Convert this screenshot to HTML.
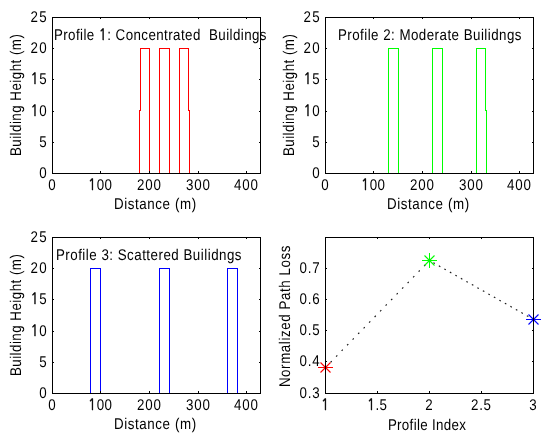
<!DOCTYPE html>
<html><head><meta charset="utf-8"><title>Building profiles</title>
<style>html,body{margin:0;padding:0;background:#fff;overflow:hidden;}svg{display:block;}.o{font-family:NanumGothic,"Liberation Sans",sans-serif;stroke:#000;stroke-width:0.45px;}</style>
</head><body>
<svg width="550" height="438" viewBox="0 0 550 438" shape-rendering="crispEdges">
<rect x="0" y="0" width="550" height="438" fill="#fff"/>
<rect x="140" y="48" width="1" height="63" fill="#f00"/>
<rect x="139" y="110" width="1" height="64" fill="#f00"/>
<rect x="140" y="48" width="10" height="1" fill="#f00"/>
<rect x="149" y="48" width="1" height="126" fill="#f00"/>
<rect x="159" y="48" width="1" height="126" fill="#f00"/>
<rect x="159" y="48" width="11" height="1" fill="#f00"/>
<rect x="169" y="48" width="1" height="126" fill="#f00"/>
<rect x="179" y="48" width="1" height="126" fill="#f00"/>
<rect x="179" y="48" width="10" height="1" fill="#f00"/>
<rect x="188" y="48" width="1" height="63" fill="#f00"/>
<rect x="189" y="110" width="1" height="64" fill="#f00"/>
<rect x="388" y="48" width="1" height="126" fill="#0f0"/>
<rect x="388" y="48" width="11" height="1" fill="#0f0"/>
<rect x="398" y="48" width="1" height="126" fill="#0f0"/>
<rect x="432" y="48" width="1" height="126" fill="#0f0"/>
<rect x="432" y="48" width="11" height="1" fill="#0f0"/>
<rect x="442" y="48" width="1" height="126" fill="#0f0"/>
<rect x="476" y="48" width="1" height="126" fill="#0f0"/>
<rect x="476" y="48" width="10" height="1" fill="#0f0"/>
<rect x="485" y="48" width="1" height="63" fill="#0f0"/>
<rect x="486" y="110" width="1" height="64" fill="#0f0"/>
<rect x="90" y="268" width="1" height="126" fill="#00f"/>
<rect x="90" y="268" width="11" height="1" fill="#00f"/>
<rect x="100" y="268" width="1" height="126" fill="#00f"/>
<rect x="159" y="268" width="1" height="126" fill="#00f"/>
<rect x="159" y="268" width="11" height="1" fill="#00f"/>
<rect x="169" y="268" width="1" height="126" fill="#00f"/>
<rect x="227" y="268" width="1" height="126" fill="#00f"/>
<rect x="227" y="268" width="11" height="1" fill="#00f"/>
<rect x="237" y="268" width="1" height="126" fill="#00f"/>
<path d="M330.61 362.25L331.79 361.03M336.11 356.59L337.29 355.37M341.61 350.93L342.79 349.71M347.11 345.27L348.29 344.05M352.61 339.61L353.79 338.39M358.11 333.95L359.29 332.73M363.61 328.29L364.79 327.07M369.11 322.63L370.29 321.42M374.61 316.98L375.79 315.76M380.11 311.32L381.29 310.10M385.61 305.66L386.79 304.44M391.11 300.00L392.29 298.78M396.61 294.34L397.79 293.12M402.11 288.68L403.29 287.46M407.61 283.02L408.79 281.80M413.11 277.37L414.29 276.15M418.61 271.71L419.79 270.49M424.11 266.05L425.29 264.83M433.36 262.69L434.84 263.53M438.86 265.81L440.34 266.65M444.36 268.93L445.84 269.77M449.86 272.05L451.34 272.89M455.36 275.17L456.84 276.01M460.86 278.29L462.34 279.13M466.36 281.41L467.84 282.25M471.86 284.53L473.34 285.37M477.36 287.65L478.84 288.49M482.86 290.77L484.34 291.61M488.36 293.89L489.84 294.73M493.86 297.01L495.34 297.85M499.36 300.13L500.84 300.97M504.86 303.25L506.34 304.09M510.36 306.37L511.84 307.21M515.86 309.49L517.34 310.33M521.36 312.61L522.84 313.45M526.86 315.73L528.34 316.57" stroke="#1a1a1a" stroke-width="1.15" fill="none" shape-rendering="auto"/>
<g stroke="#f00" stroke-width="1"><line x1="318.0" y1="367.5" x2="333.0" y2="367.5"/><line x1="325.5" y1="360.0" x2="325.5" y2="375.0"/></g><g stroke="#f00" stroke-width="1.1" shape-rendering="auto"><line x1="320.5" y1="362.5" x2="330.5" y2="372.5"/><line x1="320.5" y1="372.5" x2="330.5" y2="362.5"/></g>
<g stroke="#0f0" stroke-width="1"><line x1="422.0" y1="260.5" x2="437.0" y2="260.5"/><line x1="429.5" y1="253.0" x2="429.5" y2="268.0"/></g><g stroke="#0f0" stroke-width="1.1" shape-rendering="auto"><line x1="424.5" y1="255.5" x2="434.5" y2="265.5"/><line x1="424.5" y1="265.5" x2="434.5" y2="255.5"/></g>
<g stroke="#00f" stroke-width="1"><line x1="526.0" y1="319.5" x2="541.0" y2="319.5"/><line x1="533.5" y1="312.0" x2="533.5" y2="327.0"/></g><g stroke="#00f" stroke-width="1.1" shape-rendering="auto"><line x1="528.5" y1="314.5" x2="538.5" y2="324.5"/><line x1="528.5" y1="324.5" x2="538.5" y2="314.5"/></g>
<rect x="52" y="17" width="209" height="1" fill="#000"/>
<rect x="52" y="173" width="209" height="1" fill="#000"/>
<rect x="52" y="17" width="1" height="157" fill="#000"/>
<rect x="260" y="17" width="1" height="157" fill="#000"/>
<rect x="100" y="171" width="1" height="2" fill="#000"/>
<rect x="100" y="18" width="1" height="1" fill="#000"/>
<rect x="149" y="171" width="1" height="2" fill="#000"/>
<rect x="149" y="18" width="1" height="1" fill="#000"/>
<rect x="198" y="171" width="1" height="2" fill="#000"/>
<rect x="198" y="18" width="1" height="1" fill="#000"/>
<rect x="246" y="171" width="1" height="2" fill="#000"/>
<rect x="246" y="18" width="1" height="1" fill="#000"/>
<rect x="53" y="142" width="1" height="1" fill="#000"/>
<rect x="259" y="142" width="1" height="1" fill="#000"/>
<rect x="53" y="111" width="1" height="1" fill="#000"/>
<rect x="259" y="111" width="1" height="1" fill="#000"/>
<rect x="53" y="79" width="1" height="1" fill="#000"/>
<rect x="259" y="79" width="1" height="1" fill="#000"/>
<rect x="53" y="48" width="1" height="1" fill="#000"/>
<rect x="259" y="48" width="1" height="1" fill="#000"/>
<rect x="325" y="17" width="209" height="1" fill="#000"/>
<rect x="325" y="173" width="209" height="1" fill="#000"/>
<rect x="325" y="17" width="1" height="157" fill="#000"/>
<rect x="533" y="17" width="1" height="157" fill="#000"/>
<rect x="373" y="171" width="1" height="2" fill="#000"/>
<rect x="373" y="18" width="1" height="1" fill="#000"/>
<rect x="422" y="171" width="1" height="2" fill="#000"/>
<rect x="422" y="18" width="1" height="1" fill="#000"/>
<rect x="471" y="171" width="1" height="2" fill="#000"/>
<rect x="471" y="18" width="1" height="1" fill="#000"/>
<rect x="519" y="171" width="1" height="2" fill="#000"/>
<rect x="519" y="18" width="1" height="1" fill="#000"/>
<rect x="326" y="142" width="1" height="1" fill="#000"/>
<rect x="532" y="142" width="1" height="1" fill="#000"/>
<rect x="326" y="111" width="1" height="1" fill="#000"/>
<rect x="532" y="111" width="1" height="1" fill="#000"/>
<rect x="326" y="79" width="1" height="1" fill="#000"/>
<rect x="532" y="79" width="1" height="1" fill="#000"/>
<rect x="326" y="48" width="1" height="1" fill="#000"/>
<rect x="532" y="48" width="1" height="1" fill="#000"/>
<rect x="52" y="237" width="209" height="1" fill="#000"/>
<rect x="52" y="393" width="209" height="1" fill="#000"/>
<rect x="52" y="237" width="1" height="157" fill="#000"/>
<rect x="260" y="237" width="1" height="157" fill="#000"/>
<rect x="100" y="391" width="1" height="2" fill="#000"/>
<rect x="100" y="238" width="1" height="1" fill="#000"/>
<rect x="149" y="391" width="1" height="2" fill="#000"/>
<rect x="149" y="238" width="1" height="1" fill="#000"/>
<rect x="198" y="391" width="1" height="2" fill="#000"/>
<rect x="198" y="238" width="1" height="1" fill="#000"/>
<rect x="246" y="391" width="1" height="2" fill="#000"/>
<rect x="246" y="238" width="1" height="1" fill="#000"/>
<rect x="53" y="362" width="1" height="1" fill="#000"/>
<rect x="259" y="362" width="1" height="1" fill="#000"/>
<rect x="53" y="331" width="1" height="1" fill="#000"/>
<rect x="259" y="331" width="1" height="1" fill="#000"/>
<rect x="53" y="299" width="1" height="1" fill="#000"/>
<rect x="259" y="299" width="1" height="1" fill="#000"/>
<rect x="53" y="268" width="1" height="1" fill="#000"/>
<rect x="259" y="268" width="1" height="1" fill="#000"/>
<rect x="325" y="237" width="209" height="1" fill="#000"/>
<rect x="325" y="393" width="209" height="1" fill="#000"/>
<rect x="325" y="237" width="1" height="157" fill="#000"/>
<rect x="533" y="237" width="1" height="157" fill="#000"/>
<rect x="377" y="391" width="1" height="2" fill="#000"/>
<rect x="377" y="238" width="1" height="1" fill="#000"/>
<rect x="429" y="391" width="1" height="2" fill="#000"/>
<rect x="429" y="238" width="1" height="1" fill="#000"/>
<rect x="481" y="391" width="1" height="2" fill="#000"/>
<rect x="481" y="238" width="1" height="1" fill="#000"/>
<rect x="326" y="361" width="1" height="1" fill="#000"/>
<rect x="532" y="361" width="1" height="1" fill="#000"/>
<rect x="326" y="330" width="1" height="1" fill="#000"/>
<rect x="532" y="330" width="1" height="1" fill="#000"/>
<rect x="326" y="299" width="1" height="1" fill="#000"/>
<rect x="532" y="299" width="1" height="1" fill="#000"/>
<rect x="326" y="268" width="1" height="1" fill="#000"/>
<rect x="532" y="268" width="1" height="1" fill="#000"/>
<g font-family='"Liberation Sans", Arial, sans-serif' font-size="15.5" fill="#000" text-rendering="geometricPrecision" shape-rendering="auto">
<text x="0" y="0" transform="translate(46.6,178) scale(0.86,1)" text-anchor="end" textLength="9.30" lengthAdjust="spacing">0</text>
<text x="0" y="0" transform="translate(46.6,147) scale(0.86,1)" text-anchor="end" textLength="9.30" lengthAdjust="spacing">5</text>
<text x="0" y="0" transform="translate(46.6,116) scale(0.86,1)" text-anchor="end" textLength="18.60" lengthAdjust="spacing"><tspan class="o">1</tspan>0</text>
<text x="0" y="0" transform="translate(46.6,84) scale(0.86,1)" text-anchor="end" textLength="18.60" lengthAdjust="spacing"><tspan class="o">1</tspan>5</text>
<text x="0" y="0" transform="translate(46.6,53) scale(0.86,1)" text-anchor="end" textLength="18.60" lengthAdjust="spacing">20</text>
<text x="0" y="0" transform="translate(46.6,22) scale(0.86,1)" text-anchor="end" textLength="18.60" lengthAdjust="spacing">25</text>
<text x="0" y="0" transform="translate(52,190) scale(0.86,1)" text-anchor="middle" textLength="9.30" lengthAdjust="spacing">0</text>
<text x="0" y="0" transform="translate(100,190) scale(0.86,1)" text-anchor="middle" textLength="27.91" lengthAdjust="spacing"><tspan class="o">1</tspan>00</text>
<text x="0" y="0" transform="translate(149,190) scale(0.86,1)" text-anchor="middle" textLength="27.91" lengthAdjust="spacing">200</text>
<text x="0" y="0" transform="translate(198,190) scale(0.86,1)" text-anchor="middle" textLength="27.91" lengthAdjust="spacing">300</text>
<text x="0" y="0" transform="translate(246,190) scale(0.86,1)" text-anchor="middle" textLength="27.91" lengthAdjust="spacing">400</text>
<text x="0" y="0" transform="translate(319.6,178) scale(0.86,1)" text-anchor="end" textLength="9.30" lengthAdjust="spacing">0</text>
<text x="0" y="0" transform="translate(319.6,147) scale(0.86,1)" text-anchor="end" textLength="9.30" lengthAdjust="spacing">5</text>
<text x="0" y="0" transform="translate(319.6,116) scale(0.86,1)" text-anchor="end" textLength="18.60" lengthAdjust="spacing"><tspan class="o">1</tspan>0</text>
<text x="0" y="0" transform="translate(319.6,84) scale(0.86,1)" text-anchor="end" textLength="18.60" lengthAdjust="spacing"><tspan class="o">1</tspan>5</text>
<text x="0" y="0" transform="translate(319.6,53) scale(0.86,1)" text-anchor="end" textLength="18.60" lengthAdjust="spacing">20</text>
<text x="0" y="0" transform="translate(319.6,22) scale(0.86,1)" text-anchor="end" textLength="18.60" lengthAdjust="spacing">25</text>
<text x="0" y="0" transform="translate(325,190) scale(0.86,1)" text-anchor="middle" textLength="9.30" lengthAdjust="spacing">0</text>
<text x="0" y="0" transform="translate(373,190) scale(0.86,1)" text-anchor="middle" textLength="27.91" lengthAdjust="spacing"><tspan class="o">1</tspan>00</text>
<text x="0" y="0" transform="translate(422,190) scale(0.86,1)" text-anchor="middle" textLength="27.91" lengthAdjust="spacing">200</text>
<text x="0" y="0" transform="translate(471,190) scale(0.86,1)" text-anchor="middle" textLength="27.91" lengthAdjust="spacing">300</text>
<text x="0" y="0" transform="translate(519,190) scale(0.86,1)" text-anchor="middle" textLength="27.91" lengthAdjust="spacing">400</text>
<text x="0" y="0" transform="translate(46.6,398) scale(0.86,1)" text-anchor="end" textLength="9.30" lengthAdjust="spacing">0</text>
<text x="0" y="0" transform="translate(46.6,367) scale(0.86,1)" text-anchor="end" textLength="9.30" lengthAdjust="spacing">5</text>
<text x="0" y="0" transform="translate(46.6,336) scale(0.86,1)" text-anchor="end" textLength="18.60" lengthAdjust="spacing"><tspan class="o">1</tspan>0</text>
<text x="0" y="0" transform="translate(46.6,304) scale(0.86,1)" text-anchor="end" textLength="18.60" lengthAdjust="spacing"><tspan class="o">1</tspan>5</text>
<text x="0" y="0" transform="translate(46.6,273) scale(0.86,1)" text-anchor="end" textLength="18.60" lengthAdjust="spacing">20</text>
<text x="0" y="0" transform="translate(46.6,242) scale(0.86,1)" text-anchor="end" textLength="18.60" lengthAdjust="spacing">25</text>
<text x="0" y="0" transform="translate(52,410) scale(0.86,1)" text-anchor="middle" textLength="9.30" lengthAdjust="spacing">0</text>
<text x="0" y="0" transform="translate(100,410) scale(0.86,1)" text-anchor="middle" textLength="27.91" lengthAdjust="spacing"><tspan class="o">1</tspan>00</text>
<text x="0" y="0" transform="translate(149,410) scale(0.86,1)" text-anchor="middle" textLength="27.91" lengthAdjust="spacing">200</text>
<text x="0" y="0" transform="translate(198,410) scale(0.86,1)" text-anchor="middle" textLength="27.91" lengthAdjust="spacing">300</text>
<text x="0" y="0" transform="translate(246,410) scale(0.86,1)" text-anchor="middle" textLength="27.91" lengthAdjust="spacing">400</text>
<text x="0" y="0" transform="translate(319.6,398) scale(0.86,1)" text-anchor="end" textLength="23.26" lengthAdjust="spacing">0.3</text>
<text x="0" y="0" transform="translate(319.6,366) scale(0.86,1)" text-anchor="end" textLength="23.26" lengthAdjust="spacing">0.4</text>
<text x="0" y="0" transform="translate(319.6,335) scale(0.86,1)" text-anchor="end" textLength="23.26" lengthAdjust="spacing">0.5</text>
<text x="0" y="0" transform="translate(319.6,304) scale(0.86,1)" text-anchor="end" textLength="23.26" lengthAdjust="spacing">0.6</text>
<text x="0" y="0" transform="translate(319.6,273) scale(0.86,1)" text-anchor="end" textLength="23.26" lengthAdjust="spacing">0.7</text>
<text x="0" y="0" transform="translate(325,410) scale(0.86,1)" text-anchor="middle" textLength="9.30" lengthAdjust="spacing"><tspan class="o">1</tspan></text>
<text x="0" y="0" transform="translate(377,410) scale(0.86,1)" text-anchor="middle" textLength="23.26" lengthAdjust="spacing"><tspan class="o">1</tspan>.5</text>
<text x="0" y="0" transform="translate(429,410) scale(0.86,1)" text-anchor="middle" textLength="9.30" lengthAdjust="spacing">2</text>
<text x="0" y="0" transform="translate(481,410) scale(0.86,1)" text-anchor="middle" textLength="23.26" lengthAdjust="spacing">2.5</text>
<text x="0" y="0" transform="translate(533,410) scale(0.86,1)" text-anchor="middle" textLength="9.30" lengthAdjust="spacing">3</text>
<text x="0" y="0" transform="translate(113.91,209) scale(0.86,1)" textLength="95.66" lengthAdjust="spacing">Distance (m)</text>
<text x="0" y="0" transform="translate(386.91,209) scale(0.86,1)" textLength="95.66" lengthAdjust="spacing">Distance (m)</text>
<text x="0" y="0" transform="translate(113.91,429) scale(0.86,1)" textLength="95.66" lengthAdjust="spacing">Distance (m)</text>
<text x="0" y="0" transform="translate(387.91,430) scale(0.86,1)" textLength="90.64" lengthAdjust="spacing">Profile Index</text>
<text x="0" y="0" transform="translate(21,156.09) rotate(-90) scale(0.86,1)" textLength="141.77" lengthAdjust="spacing">Building Height (m)</text>
<text x="0" y="0" transform="translate(294,156.09) rotate(-90) scale(0.86,1)" textLength="141.77" lengthAdjust="spacing">Building Height (m)</text>
<text x="0" y="0" transform="translate(21,376.09) rotate(-90) scale(0.86,1)" textLength="141.77" lengthAdjust="spacing">Building Height (m)</text>
<text x="0" y="0" transform="translate(290,387.09) rotate(-90) scale(0.86,1)" textLength="164.62" lengthAdjust="spacing">Normalized Path Loss</text>
<text x="0" y="0" transform="translate(53.91,40) scale(0.86,1)" textLength="247.22" lengthAdjust="spacing">Profile <tspan class="o">1</tspan>: Concentrated&#160; Buildings</text>
<text x="0" y="0" transform="translate(337.91,40) scale(0.86,1)" textLength="213.50" lengthAdjust="spacing">Profile 2: Moderate Builidngs</text>
<text x="0" y="0" transform="translate(55.91,260) scale(0.86,1)" textLength="215.83" lengthAdjust="spacing">Profile 3: Scattered Builidngs</text>
</g>
</svg>
</body></html>
